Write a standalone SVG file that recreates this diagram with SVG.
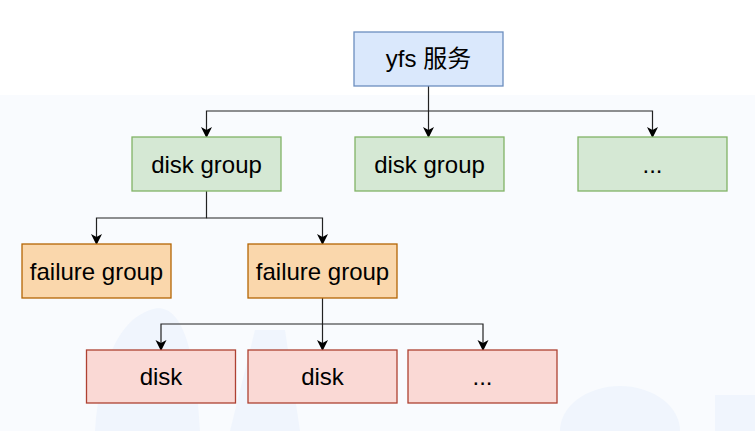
<svg xmlns="http://www.w3.org/2000/svg" width="755" height="431" viewBox="0 0 755 431">
<defs>
<marker id="arr" markerWidth="11" markerHeight="12" refX="10" refY="6" orient="auto" markerUnits="userSpaceOnUse">
<path d="M0,0.5 L11,6 L0,11.5 L3,6 Z" fill="#000"/>
</marker>
<style>
.t{font-family:"Liberation Sans",Arial,"Noto Sans CJK SC",sans-serif;font-size:24px;fill:#000;text-anchor:middle}
.b{fill:#dae8fc;stroke:#6c8ebf;stroke-width:1.3}
.g{fill:#d5e8d4;stroke:#82b366;stroke-width:1.3}
.o{fill:#fad7ac;stroke:#b46504;stroke-width:1.3}
.r{fill:#fad9d5;stroke:#ae4132;stroke-width:1.3}
.c{fill:none;stroke:#222;stroke-width:1.2;marker-end:url(#arr)}
</style>
</defs>
<rect width="755" height="431" fill="#fff"/>
<rect y="95" width="755" height="336" fill="#f9fbfe"/>
<g fill="#f0f5fd">
<path d="M95,431 C100,360 120,320 150,310 C175,300 195,330 200,431 Z"/>
<path d="M230,431 L255,330 L285,330 L300,431 Z"/>
<ellipse cx="620" cy="431" rx="60" ry="45"/>
<rect x="715" y="395" width="40" height="36"/>
</g>
<g id="connectors">
<path class="c" d="M428.5,86 V137"/>
<path class="c" d="M428.5,111 H206.5 V137"/>
<path class="c" d="M428.5,111 H652.5 V137"/>
<path class="c" d="M206.5,191 V218 H96.5 V244"/>
<path class="c" d="M206.5,218 H322.5 V244"/>
<path class="c" d="M322.5,298 V350"/>
<path class="c" d="M322.5,324 H161 V350"/>
<path class="c" d="M322.5,324 H483 V350"/>
</g>
<g id="yfs"><rect class="b" x="354" y="32" width="149" height="54"/><text class="t" x="428.5" y="67">yfs 服务</text></g>
<g id="dg1"><rect class="g" x="132" y="137" width="149" height="54"/><text class="t" x="206.5" y="173">disk group</text></g>
<g id="dg2"><rect class="g" x="355" y="137" width="149" height="54"/><text class="t" x="429.5" y="173">disk group</text></g>
<g id="dg3"><rect class="g" x="578" y="137" width="149" height="54"/><text class="t" x="652.5" y="173">...</text></g>
<g id="fg1"><rect class="o" x="22" y="244" width="149" height="54"/><text class="t" x="96.5" y="280">failure group</text></g>
<g id="fg2"><rect class="o" x="248" y="244" width="149" height="54"/><text class="t" x="322.5" y="280">failure group</text></g>
<g id="d1"><rect class="r" x="86.5" y="350" width="149" height="53"/><text class="t" x="161" y="385">disk</text></g>
<g id="d2"><rect class="r" x="248" y="350" width="149" height="53"/><text class="t" x="322.5" y="385">disk</text></g>
<g id="d3"><rect class="r" x="408" y="350" width="149" height="53"/><text class="t" x="482.5" y="385">...</text></g>
</svg>
